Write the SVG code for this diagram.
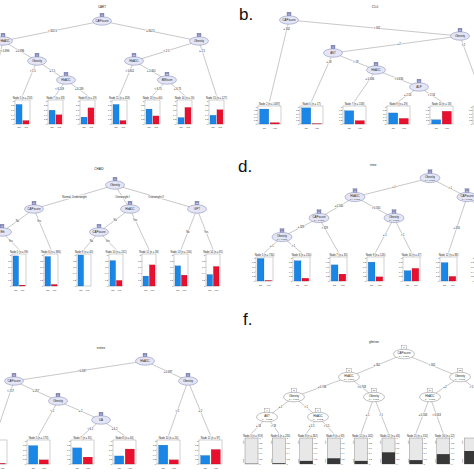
<svg xmlns="http://www.w3.org/2000/svg" xmlns:xlink="http://www.w3.org/1999/xlink" width="474" height="474" viewBox="0 0 474 474">
<style>
text{font-family:"Liberation Sans",Arial,sans-serif;fill:#222}
.t{font-size:3px;text-anchor:middle}
.nl{font-size:2.9px;text-anchor:middle}
.ps{font-size:2.4px;text-anchor:middle}
.el{font-size:2.6px;text-anchor:middle;stroke:#fff;stroke-width:1.1px;paint-order:stroke;stroke-linejoin:round}
.tk{font-size:2.1px;text-anchor:end}
.tkr{font-size:2.1px;text-anchor:start}
.ax{font-size:2.4px;text-anchor:middle}
.lt{font-size:2.6px;text-anchor:middle}
.ed line{stroke:#858585;stroke-width:0.45;fill:none}
.tm{stroke:#666;stroke-width:0.3;fill:none}
.nd{fill:#e4e6f6;stroke:#6f74a8;stroke-width:0.45}
.idb{fill:#8e92c0;stroke:#5b5f92;stroke-width:0.3}
.idt{font-size:2.3px;text-anchor:middle;fill:#fff}
.fr{fill:#fff;stroke:#8a8a8a;stroke-width:0.4}
.b{fill:#1a86e6;stroke:#0d4f91;stroke-width:0.2}
.r{fill:#e8102e;stroke:#8a0a1b;stroke-width:0.2}
.pl{font-size:17px;fill:#111}
.fn{fill:#fff;stroke:#777;stroke-width:0.45}
.fid{fill:#fff;stroke:#777;stroke-width:0.35}
.fidt{font-size:2.3px;text-anchor:middle;fill:#222}
.sp{fill:#e8e8e8;stroke:#777;stroke-width:0.4}
.dk{fill:#383838}
</style>
<defs>
<g id="axA"><rect class="fr" width="15" height="24"/><path class="tm" d="M-0.8 24H0M-0.8 19.4H0M-0.8 14.8H0M-0.8 10.2H0M-0.8 5.6H0M-0.8 1H0"/><text class="tk" x="-1.1" y="24.7">0</text><text class="tk" x="-1.1" y="20.1">0.2</text><text class="tk" x="-1.1" y="15.5">0.4</text><text class="tk" x="-1.1" y="10.9">0.6</text><text class="tk" x="-1.1" y="6.3">0.8</text><text class="tk" x="-1.1" y="1.7">1</text><text class="ax" x="4.05" y="28.2">No</text><text class="ax" x="10.95" y="28.2">Yes</text></g>
<g id="axB"><rect class="fr" width="23" height="18"/><path class="tm" d="M-0.8 18H0M-0.8 14.6H0M-0.8 11.2H0M-0.8 7.8H0M-0.8 4.4H0M-0.8 1H0"/><text class="tk" x="-1.1" y="18.7">0</text><text class="tk" x="-1.1" y="15.3">0.2</text><text class="tk" x="-1.1" y="11.9">0.4</text><text class="tk" x="-1.1" y="8.5">0.6</text><text class="tk" x="-1.1" y="5.1">0.8</text><text class="tk" x="-1.1" y="1.7">1</text><text class="ax" x="6.2" y="23.2">No</text><text class="ax" x="16.8" y="23.2">Yes</text></g>
<g id="axC"><rect class="fr" width="14" height="32"/><path class="tm" d="M-0.8 32H0M-0.8 25.8H0M-0.8 19.6H0M-0.8 13.4H0M-0.8 7.2H0M-0.8 1H0"/><text class="tk" x="-1.1" y="32.7">0</text><text class="tk" x="-1.1" y="26.5">0.2</text><text class="tk" x="-1.1" y="20.3">0.4</text><text class="tk" x="-1.1" y="14.1">0.6</text><text class="tk" x="-1.1" y="7.9">0.8</text><text class="tk" x="-1.1" y="1.7">1</text><text class="ax" x="3.8" y="36.5">No</text><text class="ax" x="10.2" y="36.5">Yes</text></g>
<g id="axD"><rect class="fr" width="17" height="24"/><path class="tm" d="M-0.8 24H0M-0.8 19.4H0M-0.8 14.8H0M-0.8 10.2H0M-0.8 5.6H0M-0.8 1H0"/><text class="tk" x="-1.1" y="24.7">0</text><text class="tk" x="-1.1" y="20.1">0.2</text><text class="tk" x="-1.1" y="15.5">0.4</text><text class="tk" x="-1.1" y="10.9">0.6</text><text class="tk" x="-1.1" y="6.3">0.8</text><text class="tk" x="-1.1" y="1.7">1</text><text class="ax" x="4.6" y="28.5">No</text><text class="ax" x="12.4" y="28.5">Yes</text></g>
<g id="axE"><rect class="fr" width="23" height="24"/><path class="tm" d="M-0.8 24H0M-0.8 19.4H0M-0.8 14.8H0M-0.8 10.2H0M-0.8 5.6H0M-0.8 1H0"/><text class="tk" x="-1.1" y="24.7">0</text><text class="tk" x="-1.1" y="20.1">0.2</text><text class="tk" x="-1.1" y="15.5">0.4</text><text class="tk" x="-1.1" y="10.9">0.6</text><text class="tk" x="-1.1" y="6.3">0.8</text><text class="tk" x="-1.1" y="1.7">1</text><text class="ax" x="6.2" y="28.6">No</text><text class="ax" x="16.8" y="28.6">Yes</text></g>
<g id="axF"><rect class="sp" width="13" height="26"/><path class="tm" d="M13 26h0.8M13 20.8h0.8M13 15.6h0.8M13 10.4h0.8M13 5.2h0.8M13 0h0.8"/><text class="tkr" x="14.4" y="26.7">0</text><text class="tkr" x="14.4" y="21.5">0.2</text><text class="tkr" x="14.4" y="16.3">0.4</text><text class="tkr" x="14.4" y="11.1">0.6</text><text class="tkr" x="14.4" y="5.9">0.8</text><text class="tkr" x="14.4" y="0.7">1</text><text class="ps" transform="translate(-0.9,4) rotate(-90)">No</text><text class="ps" transform="translate(-0.9,23) rotate(-90)">Yes</text></g>
</defs>
<rect width="474" height="474" fill="#fff"/>

<!-- panel labels and titles -->
<text class="pl" x="239" y="20">b.</text>
<text class="pl" x="238" y="172">d.</text>
<text class="pl" x="243" y="325">f.</text>
<text class="t" x="102" y="8">CART</text>
<text class="t" x="375" y="8">C5.0</text>
<text class="t" x="99" y="170">CHAID</text>
<text class="t" x="373" y="166">ctree</text>
<text class="t" x="101" y="349">evtree</text>
<text class="t" x="374" y="343">glmtree</text>

<g id="connectors" class="ed">
<!-- a -->
<line x1="102" y1="21" x2="3" y2="41"/><line x1="102" y1="21" x2="199" y2="41"/>
<line x1="3" y1="41" x2="-9.5" y2="95.5"/><line x1="3" y1="41" x2="37" y2="61"/>
<line x1="37" y1="61" x2="22.5" y2="95.5"/><line x1="37" y1="61" x2="66" y2="80"/>
<line x1="66" y1="80" x2="55.5" y2="95.5"/><line x1="66" y1="80" x2="87.5" y2="95.5"/>
<line x1="199" y1="41" x2="134" y2="61"/><line x1="199" y1="41" x2="216.5" y2="95.5"/>
<line x1="134" y1="61" x2="119.5" y2="95.5"/><line x1="134" y1="61" x2="167" y2="80"/>
<line x1="167" y1="80" x2="152.5" y2="95.5"/><line x1="167" y1="80" x2="184.5" y2="95.5"/>
<text class="el" x="52.5" y="31.9">&lt; 302.5</text><text class="el" x="150.5" y="31.9">≥ 302.5</text>
<text class="el" x="0.6" y="51.9" style="text-anchor:start">&lt; 0.896</text><text class="el" x="20" y="51.9">≥ 0.896</text>
<text class="el" x="32.8" y="71.9">&lt; 1.5</text><text class="el" x="52.3" y="71.9">≥ 1.5</text>
<text class="el" x="59.6" y="90.4">&lt; 6.249</text><text class="el" x="79.2" y="90.4">≥ 6.249</text>
<text class="el" x="166.5" y="51.9">&lt; 2.5</text><text class="el" x="202.2" y="51.9">≥ 2.5</text>
<text class="el" x="129.8" y="71.9">&lt; 0.601</text><text class="el" x="151.4" y="71.9">≥ 0.601</text>
<text class="el" x="158.1" y="90.4">&lt; 6.75</text><text class="el" x="177.7" y="90.4">≥ 6.75</text>
<!-- b -->
<line x1="289" y1="20" x2="269.5" y2="101.5"/><line x1="289" y1="20" x2="460" y2="36"/>
<line x1="460" y1="36" x2="333" y2="53"/><line x1="460" y1="36" x2="484" y2="101.5"/>
<line x1="333" y1="53" x2="311.5" y2="101.5"/><line x1="333" y1="53" x2="376" y2="70"/>
<line x1="376" y1="70" x2="354.5" y2="101.5"/><line x1="376" y1="70" x2="419" y2="87"/>
<line x1="419" y1="87" x2="398.5" y2="101.5"/><line x1="419" y1="87" x2="441.5" y2="101.5"/>
<text class="el" x="286.8" y="29.9">≤ 302</text><text class="el" x="377" y="29.1">&gt; 302</text>
<text class="el" x="399" y="45.1">≤ 2</text><text class="el" x="463.3" y="45.9">&gt; 2</text>
<text class="el" x="329" y="62.9">≤ 18</text><text class="el" x="355.8" y="62.9">&gt; 18</text>
<text class="el" x="369.9" y="79.9">≤ 0.636</text><text class="el" x="398.8" y="79.9">&gt; 0.636</text>
<text class="el" x="407.7" y="95.9">≤ 2.53</text><text class="el" x="431.4" y="95.9">&gt; 2.53</text>
<!-- c -->
<line x1="115" y1="185" x2="34" y2="209"/><line x1="115" y1="185" x2="130" y2="209"/><line x1="115" y1="185" x2="197" y2="209"/>
<line x1="34" y1="209" x2="2" y2="232"/><line x1="34" y1="209" x2="51" y2="249.5"/>
<line x1="2" y1="232" x2="-13.4" y2="249.5"/><line x1="2" y1="232" x2="19" y2="249.5"/>
<line x1="130" y1="209" x2="99" y2="232"/><line x1="130" y1="209" x2="149" y2="249.5"/>
<line x1="99" y1="232" x2="84" y2="249.5"/><line x1="99" y1="232" x2="116" y2="249.5"/>
<line x1="197" y1="209" x2="181" y2="249.5"/><line x1="197" y1="209" x2="213" y2="249.5"/>
<text class="el" x="74.5" y="197.9">Normal, Underweight</text><text class="el" x="122.5" y="197.9">Overweight I</text><text class="el" x="156" y="197.9">Overweight II</text>
<text class="el" x="17.3" y="221.9">No</text><text class="el" x="39" y="221.9">Yes</text>
<text class="el" x="10.7" y="241.9">Yes</text>
<text class="el" x="115.2" y="220.9">No</text><text class="el" x="135.2" y="220.9">Yes</text>
<text class="el" x="91.3" y="241.9">No</text><text class="el" x="107.7" y="241.9">Yes</text>
<text class="el" x="187.9" y="232.9">No</text><text class="el" x="206.1" y="232.9">Yes</text>
<!-- d -->
<line x1="430" y1="178" x2="355" y2="197"/><line x1="430" y1="178" x2="467" y2="197"/>
<line x1="355" y1="197" x2="319" y2="218"/><line x1="355" y1="197" x2="394" y2="218"/>
<line x1="319" y1="218" x2="282" y2="237"/><line x1="319" y1="218" x2="338.5" y2="252.5"/>
<line x1="282" y1="237" x2="264.5" y2="252.5"/><line x1="282" y1="237" x2="301.5" y2="252.5"/>
<line x1="394" y1="218" x2="375.5" y2="252.5"/><line x1="394" y1="218" x2="411.5" y2="252.5"/>
<line x1="467" y1="197" x2="448.5" y2="252.5"/><line x1="467" y1="197" x2="492" y2="218"/>
<text class="el" x="394" y="188">≤ 1</text><text class="el" x="450" y="189.2">&gt; 1</text>
<text class="el" x="339" y="207.2">≤ 0.565</text><text class="el" x="376" y="209.2">&gt; 0.565</text>
<text class="el" x="301" y="228.1">≤ 329</text><text class="el" x="324.7" y="228.9">&gt; 329</text>
<text class="el" x="271.8" y="246.9">≤ 1</text><text class="el" x="293.3" y="246.9">&gt; 1</text>
<text class="el" x="384.9" y="235.9">≤ 1</text><text class="el" x="402.6" y="235.9">&gt; 1</text>
<text class="el" x="456.7" y="228.9">≤ 335</text>
<!-- e -->
<line x1="145" y1="361" x2="14" y2="381"/><line x1="145" y1="361" x2="188" y2="381"/>
<line x1="14" y1="381" x2="-4.5" y2="435.5"/><line x1="14" y1="381" x2="58" y2="401"/>
<line x1="58" y1="401" x2="38.5" y2="435.5"/><line x1="58" y1="401" x2="101" y2="420"/>
<line x1="101" y1="420" x2="82.5" y2="435.5"/><line x1="101" y1="420" x2="124.5" y2="435.5"/>
<line x1="188" y1="381" x2="168.5" y2="435.5"/><line x1="188" y1="381" x2="210.5" y2="435.5"/>
<text class="el" x="82" y="371.5">&lt; 0.687</text><text class="el" x="168" y="372.6">≥ 0.687</text>
<text class="el" x="10.6" y="391.9">&lt; 257</text><text class="el" x="36" y="391.9">≥ 257</text>
<text class="el" x="52.3" y="411.9">&lt; 2</text><text class="el" x="80.6" y="411.9">≥ 2</text>
<text class="el" x="90.3" y="429.9">&lt; 6.2</text><text class="el" x="114.6" y="429.9">≥ 6.2</text>
<text class="el" x="177.3" y="411.9">&lt; 2</text><text class="el" x="200.4" y="411.9">≥ 2</text>
<!-- f -->
<line x1="404" y1="354" x2="349" y2="377"/><line x1="404" y1="354" x2="460" y2="377"/>
<line x1="349" y1="377" x2="294" y2="397"/><line x1="349" y1="377" x2="374" y2="397"/>
<line x1="294" y1="397" x2="267" y2="417"/><line x1="294" y1="397" x2="318" y2="417"/>
<line x1="267" y1="417" x2="251.5" y2="433.5"/><line x1="267" y1="417" x2="279" y2="433.5"/>
<line x1="318" y1="417" x2="306.3" y2="433.5"/><line x1="318" y1="417" x2="333.7" y2="433.5"/>
<line x1="374" y1="397" x2="361.1" y2="433.5"/><line x1="374" y1="397" x2="388.5" y2="433.5"/>
<line x1="460" y1="377" x2="430" y2="397"/><line x1="460" y1="377" x2="490" y2="400"/>
<line x1="430" y1="397" x2="415.9" y2="433.5"/><line x1="430" y1="397" x2="443.3" y2="433.5"/>
<text class="el" x="377" y="366.2">≤ 302</text><text class="el" x="432" y="366.4">&gt; 302</text>
<text class="el" x="322" y="387.7">≤ 0.748</text><text class="el" x="361.5" y="387.9">&gt; 0.748</text>
<text class="el" x="445" y="387.9">≤ 2</text><text class="el" x="471.3" y="387.9">&gt; 2</text>
<text class="el" x="280.5" y="407.9">≤ 1</text><text class="el" x="306" y="407.9">&gt; 1</text>
<text class="el" x="258.5" y="426.9">≤ 18</text><text class="el" x="273.5" y="426.9">&gt; 18</text>
<text class="el" x="311.6" y="426.9">≤ 5.5</text><text class="el" x="326.6" y="426.9">&gt; 5.5</text>
<text class="el" x="367.6" y="415.9">≤ 1</text><text class="el" x="381.2" y="415.9">&gt; 1</text>
<text class="el" x="423" y="415.9">≤ 0.563</text><text class="el" x="436.6" y="415.9">&gt; 0.563</text>
</g>

<!-- ===== panel a nodes ===== -->
<g id="a-n1"><rect class="idb" x="100" y="13.2" width="4" height="3.6"/><text class="idt" x="102" y="15.9">1</text><ellipse class="nd" cx="102" cy="21" rx="9.5" ry="4.2"/><text class="nl" x="102" y="22">CAPscore</text></g>
<g id="a-n2"><rect class="idb" x="1" y="33.2" width="4" height="3.6"/><text class="idt" x="3" y="35.9">2</text><ellipse class="nd" cx="3" cy="41" rx="9.5" ry="4.2"/><text class="nl" x="0.4" y="42" style="text-anchor:start">HbA1C</text></g>
<g id="a-n4"><rect class="idb" x="35" y="53.2" width="4" height="3.6"/><text class="idt" x="37" y="55.9">4</text><ellipse class="nd" cx="37" cy="61" rx="9.5" ry="4.2"/><text class="nl" x="37" y="62">Obesity</text></g>
<g id="a-n6"><rect class="idb" x="64" y="72.2" width="4" height="3.6"/><text class="idt" x="66" y="74.9">6</text><ellipse class="nd" cx="66" cy="80" rx="9.5" ry="4.2"/><text class="nl" x="66" y="81">HbA1C</text></g>
<g id="a-n9"><rect class="idb" x="197" y="33.2" width="4" height="3.6"/><text class="idt" x="199" y="35.9">9</text><ellipse class="nd" cx="199" cy="41" rx="9.5" ry="4.2"/><text class="nl" x="199" y="42">Obesity</text></g>
<g id="a-n10"><rect class="idb" x="132" y="53.2" width="4" height="3.6"/><text class="idt" x="134" y="55.9">10</text><ellipse class="nd" cx="134" cy="61" rx="9.5" ry="4.2"/><text class="nl" x="134" y="62">HbA1C</text></g>
<g id="a-n12"><rect class="idb" x="165" y="72.2" width="4" height="3.6"/><text class="idt" x="167" y="74.9">12</text><ellipse class="nd" cx="167" cy="80" rx="9.5" ry="4.2"/><text class="nl" x="167" y="81">BMIsum</text></g>
<g id="a-n3" transform="translate(-17,100)"><rect class="fr" width="15" height="24"/><rect class="b" x="1.05" y="3.3" width="6" height="20.7"/><rect class="r" x="7.95" y="21.7" width="6" height="2.3"/></g>
<g id="a-n5" transform="translate(15,100)"><text class="lt" x="7.5" y="-1.5">Node 5 (n = 253)</text><use href="#axA"/><rect class="b" x="1.05" y="4.45" width="6" height="19.55"/><rect class="r" x="7.95" y="20.55" width="6" height="3.45"/></g>
<g id="a-n7" transform="translate(48,100)"><text class="lt" x="7.5" y="-1.5">Node 7 (n = 33)</text><use href="#axA"/><rect class="b" x="1.05" y="10.2" width="6" height="13.8"/><rect class="r" x="7.95" y="14.8" width="6" height="9.2"/></g>
<g id="a-n8" transform="translate(80,100)"><text class="lt" x="7.5" y="-1.5">Node 8 (n = 19)</text><use href="#axA"/><rect class="b" x="1.05" y="17.1" width="6" height="6.9"/><rect class="r" x="7.95" y="7.9" width="6" height="16.1"/></g>
<g id="a-n11" transform="translate(112,100)"><text class="lt" x="7.5" y="-1.5">Node 11 (n = 453)</text><use href="#axA"/><rect class="b" x="1.05" y="4.45" width="6" height="19.55"/><rect class="r" x="7.95" y="20.55" width="6" height="3.45"/></g>
<g id="a-n13" transform="translate(145,100)"><text class="lt" x="7.5" y="-1.5">Node 13 (n = 60)</text><use href="#axA"/><rect class="b" x="1.05" y="9.05" width="6" height="14.95"/><rect class="r" x="7.95" y="15.95" width="6" height="8.05"/></g>
<g id="a-n14" transform="translate(177,100)"><text class="lt" x="7.5" y="-1.5">Node 14 (n = 16)</text><use href="#axA"/><rect class="b" x="1.05" y="17.56" width="6" height="6.44"/><rect class="r" x="7.95" y="7.44" width="6" height="16.56"/></g>
<g id="a-n15" transform="translate(209,100)"><text class="lt" x="7.5" y="-1.5">Node 15 (n = 127)</text><use href="#axA"/><rect class="b" x="1.05" y="15.26" width="6" height="8.74"/><rect class="r" x="7.95" y="9.74" width="6" height="14.26"/></g>

<!-- ===== panel b nodes ===== -->
<g id="b-n1"><rect class="idb" x="287" y="12.2" width="4" height="3.6"/><text class="idt" x="289" y="14.9">1</text><ellipse class="nd" cx="289" cy="20" rx="9.5" ry="4.2"/><text class="nl" x="289" y="21">CAPscore</text></g>
<g id="b-n3"><rect class="idb" x="458" y="28.2" width="4" height="3.6"/><text class="idt" x="460" y="30.9">3</text><ellipse class="nd" cx="460" cy="36" rx="9.5" ry="4.2"/><text class="nl" x="460" y="37">Obesity</text></g>
<g id="b-n4"><rect class="idb" x="331" y="45.2" width="4" height="3.6"/><text class="idt" x="333" y="47.9">4</text><ellipse class="nd" cx="333" cy="53" rx="9.5" ry="4.2"/><text class="nl" x="333" y="54">AST</text></g>
<g id="b-n6"><rect class="idb" x="374" y="62.2" width="4" height="3.6"/><text class="idt" x="376" y="64.9">6</text><ellipse class="nd" cx="376" cy="70" rx="9.5" ry="4.2"/><text class="nl" x="376" y="71">HbA1C</text></g>
<g id="b-n8"><rect class="idb" x="417" y="79.2" width="4" height="3.6"/><text class="idt" x="419" y="81.9">8</text><ellipse class="nd" cx="419" cy="87" rx="9.5" ry="4.2"/><text class="nl" x="419" y="88">ALP</text></g>
<g id="b-n2" transform="translate(258,106)"><text class="lt" x="11.5" y="-1.5">Node 2 (n = 1087)</text><use href="#axB"/><rect class="b" x="1.6" y="3.04" width="9.2" height="14.96"/><rect class="r" x="12.2" y="16.64" width="9.2" height="1.36"/></g>
<g id="b-n5" transform="translate(300,106)"><text class="lt" x="11.5" y="-1.5">Node 5 (n = 17)</text><use href="#axB"/><rect class="b" x="1.6" y="1.85" width="9.2" height="16.15"/><rect class="r" x="12.2" y="17.66" width="9.2" height="0.34"/></g>
<g id="b-n7" transform="translate(343,106)"><text class="lt" x="11.5" y="-1.5">Node 7 (n = 158)</text><use href="#axB"/><rect class="b" x="1.6" y="4.74" width="9.2" height="13.26"/><rect class="r" x="12.2" y="14.6" width="9.2" height="3.4"/></g>
<g id="b-n9" transform="translate(387,106)"><text class="lt" x="11.5" y="-1.5">Node 9 (n = 29)</text><use href="#axB"/><rect class="b" x="1.6" y="6.95" width="9.2" height="11.05"/><rect class="r" x="12.2" y="12.39" width="9.2" height="5.61"/></g>
<g id="b-n10" transform="translate(430,106)"><text class="lt" x="11.5" y="-1.5">Node 10 (n = 18)</text><use href="#axB"/><rect class="b" x="1.6" y="13.75" width="9.2" height="4.25"/><rect class="r" x="12.2" y="5.25" width="9.2" height="12.75"/></g>
<g id="b-n11" transform="translate(473,106)"><use href="#axB"/></g>

<!-- ===== panel c nodes ===== -->
<g id="c-n1"><rect class="idb" x="113" y="177.2" width="4" height="3.6"/><text class="idt" x="115" y="179.9">1</text><ellipse class="nd" cx="115" cy="185" rx="9.5" ry="4.2"/><text class="nl" x="115" y="186">Obesity</text></g>
<g id="c-n2"><rect class="idb" x="32" y="201.2" width="4" height="3.6"/><text class="idt" x="34" y="203.9">2</text><ellipse class="nd" cx="34" cy="209" rx="9.5" ry="4.2"/><text class="nl" x="34" y="210">CAPscore</text></g>
<g id="c-n3"><rect class="idb" x="0" y="224.2" width="4" height="3.6"/><text class="idt" x="2" y="226.9">3</text><ellipse class="nd" cx="2" cy="232" rx="9.5" ry="4.2"/><text class="nl" x="0.4" y="233" style="text-anchor:start">Eth</text></g>
<g id="c-n7"><rect class="idb" x="128" y="201.2" width="4" height="3.6"/><text class="idt" x="130" y="203.9">7</text><ellipse class="nd" cx="130" cy="209" rx="9.5" ry="4.2"/><text class="nl" x="130" y="210">HbA1C</text></g>
<g id="c-n8"><rect class="idb" x="97" y="224.2" width="4" height="3.6"/><text class="idt" x="99" y="226.9">8</text><ellipse class="nd" cx="99" cy="232" rx="9.5" ry="4.2"/><text class="nl" x="99" y="233">CAPscore</text></g>
<g id="c-n12"><rect class="idb" x="195" y="201.2" width="4" height="3.6"/><text class="idt" x="197" y="203.9">12</text><ellipse class="nd" cx="197" cy="209" rx="9.5" ry="4.2"/><text class="nl" x="197" y="210">GPT</text></g>
<g id="c-n4" transform="translate(-20.4,254)"><rect class="fr" width="14" height="32"/><rect class="b" x="1" y="2.55" width="5.6" height="29.45"/><rect class="r" x="7.4" y="30.45" width="5.6" height="1.55"/></g>
<g id="c-n5" transform="translate(12,254)"><text class="lt" x="7" y="-1.5">Node 5 (n = 99)</text><use href="#axC"/><rect class="b" x="1" y="1.93" width="5.6" height="30.07"/><rect class="r" x="7.4" y="31.07" width="5.6" height="0.93"/></g>
<g id="c-n6" transform="translate(44,254)"><text class="lt" x="7" y="-1.5">Node 6 (n = 386)</text><use href="#axC"/><rect class="b" x="1" y="2.55" width="5.6" height="29.45"/><rect class="r" x="7.4" y="30.45" width="5.6" height="1.55"/></g>
<g id="c-n9" transform="translate(77,254)"><text class="lt" x="7" y="-1.5">Node 9 (n = 40)</text><use href="#axC"/><rect class="b" x="1" y="1" width="5.6" height="31"/></g>
<g id="c-n10" transform="translate(109,254)"><text class="lt" x="7" y="-1.5">Node 10 (n = 241)</text><use href="#axC"/><rect class="b" x="1" y="6.58" width="5.6" height="25.42"/><rect class="r" x="7.4" y="26.42" width="5.6" height="5.58"/></g>
<g id="c-n11" transform="translate(142,254)"><text class="lt" x="7" y="-1.5">Node 11 (n = 33)</text><use href="#axC"/><rect class="b" x="1" y="22.08" width="5.6" height="9.92"/><rect class="r" x="7.4" y="10.92" width="5.6" height="21.08"/></g>
<g id="c-n13" transform="translate(174,254)"><text class="lt" x="7" y="-1.5">Node 13 (n = 156)</text><use href="#axC"/><rect class="b" x="1" y="11.85" width="5.6" height="20.15"/><rect class="r" x="7.4" y="21.15" width="5.6" height="10.85"/></g>
<g id="c-n14" transform="translate(206,254)"><text class="lt" x="7" y="-1.5">Node 14 (n = 81)</text><use href="#axC"/><rect class="b" x="1" y="20.53" width="5.6" height="11.47"/><rect class="r" x="7.4" y="12.47" width="5.6" height="19.53"/></g>

<!-- ===== panel d nodes ===== -->
<g id="d-n1"><rect class="idb" x="428" y="169.8" width="4" height="3.6"/><text class="idt" x="430" y="172.5">1</text><ellipse class="nd" cx="430" cy="178" rx="10" ry="4.6"/><text class="nl" x="430" y="177.6">Obesity</text><text class="ps" x="430" y="180.6">p &lt; 0.001</text></g>
<g id="d-n2"><rect class="idb" x="353" y="188.8" width="4" height="3.6"/><text class="idt" x="355" y="191.5">2</text><ellipse class="nd" cx="355" cy="197" rx="10" ry="4.6"/><text class="nl" x="355" y="196.6">HbA1C</text><text class="ps" x="355" y="199.6">p &lt; 0.001</text></g>
<g id="d-n3"><rect class="idb" x="317" y="209.8" width="4" height="3.6"/><text class="idt" x="319" y="212.5">3</text><ellipse class="nd" cx="319" cy="218" rx="10" ry="4.6"/><text class="nl" x="319" y="217.6">CAPscore</text><text class="ps" x="319" y="220.6">p &lt; 0.001</text></g>
<g id="d-n4"><rect class="idb" x="280" y="228.8" width="4" height="3.6"/><text class="idt" x="282" y="231.5">4</text><ellipse class="nd" cx="282" cy="237" rx="10" ry="4.6"/><text class="nl" x="282" y="236.6">Obesity</text><text class="ps" x="282" y="239.6">p &lt; 0.001</text></g>
<g id="d-n8"><rect class="idb" x="392" y="209.8" width="4" height="3.6"/><text class="idt" x="394" y="212.5">8</text><ellipse class="nd" cx="394" cy="218" rx="10" ry="4.6"/><text class="nl" x="394" y="217.6">Obesity</text><text class="ps" x="394" y="220.6">p &lt; 0.001</text></g>
<g id="d-n11"><rect class="idb" x="465" y="188.8" width="4" height="3.6"/><text class="idt" x="467" y="191.5">11</text><ellipse class="nd" cx="467" cy="197" rx="10" ry="4.6"/><text class="nl" x="467" y="196.6">CAPscore</text><text class="ps" x="467" y="199.6">p &lt; 0.001</text></g>
<g id="d-n5" transform="translate(256,257)"><text class="lt" x="8.5" y="-1.5">Node 5 (n = 734)</text><use href="#axD"/><rect class="b" x="1.2" y="1.46" width="6.8" height="22.54"/><rect class="r" x="9" y="23.54" width="6.8" height="0.46"/></g>
<g id="d-n6" transform="translate(293,257)"><text class="lt" x="8.5" y="-1.5">Node 6 (n = 250)</text><use href="#axD"/><rect class="b" x="1.2" y="3.76" width="6.8" height="20.24"/><rect class="r" x="9" y="21.24" width="6.8" height="2.76"/></g>
<g id="d-n7" transform="translate(330,257)"><text class="lt" x="8.5" y="-1.5">Node 7 (n = 35)</text><use href="#axD"/><rect class="b" x="1.2" y="7.9" width="6.8" height="16.1"/><rect class="r" x="9" y="17.1" width="6.8" height="6.9"/></g>
<g id="d-n9" transform="translate(367,257)"><text class="lt" x="8.5" y="-1.5">Node 9 (n = 126)</text><use href="#axD"/><rect class="b" x="1.2" y="5.14" width="6.8" height="18.86"/><rect class="r" x="9" y="19.86" width="6.8" height="4.14"/></g>
<g id="d-n10" transform="translate(403,257)"><text class="lt" x="8.5" y="-1.5">Node 10 (n = 47)</text><use href="#axD"/><rect class="b" x="1.2" y="13.65" width="6.8" height="10.35"/><rect class="r" x="9" y="11.35" width="6.8" height="12.65"/></g>
<g id="d-n12" transform="translate(440,257)"><text class="lt" x="8.5" y="-1.5">Node 12 (n = 88)</text><use href="#axD"/><rect class="b" x="1.2" y="5.6" width="6.8" height="18.4"/><rect class="r" x="9" y="19.4" width="6.8" height="4.6"/></g>
<g id="d-n13" transform="translate(475,257)"><use href="#axD"/></g>

<!-- ===== panel e nodes ===== -->
<g id="e-n1"><rect class="idb" x="143" y="353.2" width="4" height="3.6"/><text class="idt" x="145" y="355.9">1</text><ellipse class="nd" cx="145" cy="361" rx="9.5" ry="4.2"/><text class="nl" x="145" y="362">HbA1C</text></g>
<g id="e-n2"><rect class="idb" x="12" y="373.2" width="4" height="3.6"/><text class="idt" x="14" y="375.9">2</text><ellipse class="nd" cx="14" cy="381" rx="9.5" ry="4.2"/><text class="nl" x="14" y="382">CAPscore</text></g>
<g id="e-n4"><rect class="idb" x="56" y="393.2" width="4" height="3.6"/><text class="idt" x="58" y="395.9">4</text><ellipse class="nd" cx="58" cy="401" rx="9.5" ry="4.2"/><text class="nl" x="58" y="402">Obesity</text></g>
<g id="e-n6"><rect class="idb" x="99" y="412.2" width="4" height="3.6"/><text class="idt" x="101" y="414.9">6</text><ellipse class="nd" cx="101" cy="420" rx="9.5" ry="4.2"/><text class="nl" x="101" y="421">UA</text></g>
<g id="e-n9"><rect class="idb" x="186" y="373.2" width="4" height="3.6"/><text class="idt" x="188" y="375.9">9</text><ellipse class="nd" cx="188" cy="381" rx="9.5" ry="4.2"/><text class="nl" x="188" y="382">Obesity</text></g>
<g id="e-n3" transform="translate(-16,440)"><rect class="fr" width="23" height="24"/><rect class="b" x="1.6" y="1.69" width="9.2" height="22.31"/><rect class="r" x="12.2" y="23.31" width="9.2" height="0.69"/><text class="ax" x="18.3" y="28.6">Yes</text></g>
<g id="e-n5" transform="translate(27,440)"><text class="lt" x="11.5" y="-1.5">Node 5 (n = 173)</text><use href="#axE"/><rect class="b" x="1.6" y="5.6" width="9.2" height="18.4"/><rect class="r" x="12.2" y="19.86" width="9.2" height="4.14"/></g>
<g id="e-n7" transform="translate(71,440)"><text class="lt" x="11.5" y="-1.5">Node 7 (n = 35)</text><use href="#axE"/><rect class="b" x="1.6" y="7.9" width="9.2" height="16.1"/><rect class="r" x="12.2" y="17.1" width="9.2" height="6.9"/></g>
<g id="e-n8" transform="translate(113,440)"><text class="lt" x="11.5" y="-1.5">Node 8 (n = 40)</text><use href="#axE"/><rect class="b" x="1.6" y="15.95" width="9.2" height="8.05"/><rect class="r" x="12.2" y="9.05" width="9.2" height="14.95"/></g>
<g id="e-n10" transform="translate(157,440)"><text class="lt" x="11.5" y="-1.5">Node 10 (n = 24)</text><use href="#axE"/><rect class="b" x="1.6" y="5.14" width="9.2" height="18.86"/><rect class="r" x="12.2" y="19.86" width="9.2" height="4.14"/></g>
<g id="e-n11" transform="translate(199,440)"><text class="lt" x="11.5" y="-1.5">Node 11 (n = 97)</text><use href="#axE"/><rect class="b" x="1.6" y="15.49" width="9.2" height="8.51"/><rect class="r" x="12.2" y="9.51" width="9.2" height="14.49"/></g>

<!-- ===== panel f nodes ===== -->
<g id="f-n1"><rect class="fid" x="401.5" y="345.8" width="5" height="3.4"/><text class="fidt" x="404" y="348.4">1</text><ellipse class="fn" cx="404" cy="354" rx="10.5" ry="4.8"/><text class="nl" x="404" y="353.6">CAPscore</text><text class="ps" x="404" y="356.8">p &lt; 0.001</text></g>
<g id="f-n2"><rect class="fid" x="346.5" y="368.8" width="5" height="3.4"/><text class="fidt" x="349" y="371.4">2</text><ellipse class="fn" cx="349" cy="377" rx="10.5" ry="4.8"/><text class="nl" x="349" y="376.6">HbA1C</text><text class="ps" x="349" y="379.8">p &lt; 0.001</text></g>
<g id="f-n3"><rect class="fid" x="291.5" y="388.8" width="5" height="3.4"/><text class="fidt" x="294" y="391.4">3</text><ellipse class="fn" cx="294" cy="397" rx="10.5" ry="4.8"/><text class="nl" x="294" y="396.6">Obesity</text><text class="ps" x="294" y="399.8">p &lt; 0.001</text></g>
<g id="f-n4"><rect class="fid" x="264.5" y="408.8" width="5" height="3.4"/><text class="fidt" x="267" y="411.4">4</text><ellipse class="fn" cx="267" cy="417" rx="10.5" ry="4.8"/><text class="nl" x="267" y="416.6">AST</text><text class="ps" x="267" y="419.8">p = 0.002</text></g>
<g id="f-n7"><rect class="fid" x="315.5" y="408.8" width="5" height="3.4"/><text class="fidt" x="318" y="411.4">7</text><ellipse class="fn" cx="318" cy="417" rx="10.5" ry="4.8"/><text class="nl" x="318" y="416.6">HbA1C</text><text class="ps" x="318" y="419.8">p = 0.002</text></g>
<g id="f-n10"><rect class="fid" x="371.5" y="388.8" width="5" height="3.4"/><text class="fidt" x="374" y="391.4">10</text><ellipse class="fn" cx="374" cy="397" rx="10.5" ry="4.8"/><text class="nl" x="374" y="396.6">Obesity</text><text class="ps" x="374" y="399.8">p &lt; 0.001</text></g>
<g id="f-n13"><rect class="fid" x="457.5" y="368.8" width="5" height="3.4"/><text class="fidt" x="460" y="371.4">13</text><ellipse class="fn" cx="460" cy="377" rx="10.5" ry="4.8"/><text class="nl" x="460" y="376.6">Obesity</text><text class="ps" x="460" y="379.8">p &lt; 0.001</text></g>
<g id="f-n14"><rect class="fid" x="427.5" y="388.8" width="5" height="3.4"/><text class="fidt" x="430" y="391.4">14</text><ellipse class="fn" cx="430" cy="397" rx="10.5" ry="4.8"/><text class="nl" x="430" y="396.6">HbA1C</text><text class="ps" x="430" y="399.8">p = 0.015</text></g>
<g id="f-n5" transform="translate(245,438)"><text class="lt" x="8" y="-1.5">Node 5 (n = 919)</text><use href="#axF"/><rect class="dk" x="0" y="25.74" width="13" height="0.26"/></g>
<g id="f-n6" transform="translate(272.4,438)"><text class="lt" x="8" y="-1.5">Node 6 (n = 220)</text><use href="#axF"/><rect class="dk" x="0" y="25.22" width="13" height="0.78"/></g>
<g id="f-n8" transform="translate(299.8,438)"><text class="lt" x="8" y="-1.5">Node 8 (n = 262)</text><use href="#axF"/><rect class="dk" x="0" y="22.88" width="13" height="3.12"/></g>
<g id="f-n9" transform="translate(327.2,438)"><text class="lt" x="8" y="-1.5">Node 9 (n = 93)</text><use href="#axF"/><rect class="dk" x="0" y="20.28" width="13" height="5.72"/></g>
<g id="f-n11" transform="translate(354.6,438)"><text class="lt" x="8" y="-1.5">Node 11 (n = 162)</text><use href="#axF"/><rect class="dk" x="0" y="22.88" width="13" height="3.12"/></g>
<g id="f-n12" transform="translate(382,438)"><text class="lt" x="8" y="-1.5">Node 12 (n = 46)</text><use href="#axF"/><rect class="dk" x="0" y="14.3" width="13" height="11.7"/></g>
<g id="f-n15" transform="translate(409.4,438)"><text class="lt" x="8" y="-1.5">Node 15 (n = 152)</text><use href="#axF"/><rect class="dk" x="0" y="22.1" width="13" height="3.9"/></g>
<g id="f-n16" transform="translate(436.8,438)"><text class="lt" x="8" y="-1.5">Node 16 (n = 52)</text><use href="#axF"/><rect class="dk" x="0" y="16.12" width="13" height="9.88"/></g>
<g id="f-n17" transform="translate(464.2,438)"><rect class="sp" width="13" height="26"/><rect class="dk" x="0" y="13" width="13" height="13"/><text class="ps" transform="translate(-0.9,4) rotate(-90)">No</text><text class="ps" transform="translate(-0.9,23) rotate(-90)">Yes</text></g>
</svg>
